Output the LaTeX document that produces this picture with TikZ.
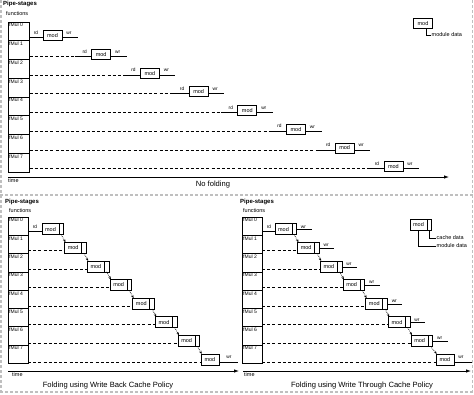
\documentclass[tikz,border=0pt]{standalone}
\usepackage{fontspec}
\setmainfont{Liberation Sans}
\usetikzlibrary{arrows.meta}
\begin{document}
\begin{tikzpicture}[x=1pt,y=-1pt,
  cell/.style={draw,line width=0.8pt,minimum width=21pt,minimum height=18.7pt,inner sep=0pt,outer sep=0pt},
  bcell/.style={draw,line width=0.8pt,minimum width=20pt,minimum height=18.3pt,inner sep=0pt,outer sep=0pt},
  cl/.style={font=\fontsize{5}{5.5}\selectfont,inner sep=1pt,anchor=north west},
  mbox/.style={draw,line width=0.8pt,minimum width=19pt,minimum height=10pt,inner sep=0pt,outer sep=0pt,font=\fontsize{5.5}{5.5}\selectfont},
  fbox/.style={draw,line width=0.8pt,minimum width=17pt,minimum height=11pt,inner sep=0pt,outer sep=0pt,font=\fontsize{5.5}{5.5}\selectfont},
  kbox/.style={draw,line width=0.8pt,minimum width=4.5pt,minimum height=11pt,inner sep=0pt,outer sep=0pt},
  lastbox/.style={draw,line width=0.8pt,minimum width=18pt,minimum height=11pt,inner sep=0pt,outer sep=0pt,font=\fontsize{5.5}{5.5}\selectfont},
  tl/.style={font=\fontsize{4.8}{4.8}\selectfont,inner sep=0.5pt,anchor=south},
  wire/.style={line width=0.8pt},
  dwire/.style={line width=0.8pt,dash pattern=on 3pt off 2.2pt},
  arr/.style={line width=0.7pt,densely dotted,-{Stealth[length=3pt,width=2.4pt]}},
  axis/.style={line width=0.8pt,-{Latex[length=5pt,width=3.5pt]}},
  ttl/.style={font=\bfseries\fontsize{6}{6}\selectfont,inner sep=0pt,anchor=north west},
  sub/.style={font=\fontsize{5.5}{6}\selectfont,inner sep=0pt,anchor=north west},
  captxt/.style={font=\fontsize{7.6}{7.6}\selectfont,inner sep=0pt},
  frame/.style={gray!50,line width=1.3pt,densely dashed}
]
\useasboundingbox (0,0) rectangle (474,394);
% frame
\draw[frame] (1,0) -- (1,393);
\draw[frame] (472.5,0) -- (472.5,393);
\draw[frame] (0,195) -- (474,195);
\draw[frame] (0,392) -- (474,392);

%================ TOP PANEL =================
\node[ttl] (tt) at (3,1) {Pipe-stages};
\node[sub] (ts) at (6,11) {functions};
\foreach \i in {0,...,7}{
  \pgfmathsetmacro\cy{31.4+18.75*\i}
  \node[cell] (c\i) at (18.5,\cy) {};
  \node[cl] (cn\i) at (c\i.north west) {fMul \i};
}
\foreach \i in {0,...,7}{
  \pgfmathsetmacro\yy{37.7+18.7*\i}
  \pgfmathsetmacro\bx{52.5+48.7*\i}
  \pgfmathsetmacro\sx{max(29.5,\bx-9.5-17)}
  \node[mbox] (t\i) at (\bx,\yy-2) {mod};
  \coordinate (tsa\i) at (29.5,\yy);
  \coordinate (tr\i) at (\sx,\yy);
  \coordinate (tw\i) at (\bx+9.5+16,\yy);
  \draw[dwire] (tsa\i) -- (tr\i);
  \draw[wire] (tr\i) -- (t\i.west |- tr\i);
  \draw[wire] (t\i.east |- tw\i) -- (tw\i);
  \node[tl] (trd\i) at (\bx-16.5,\yy-2.5) {rd};
  \node[tl] (twr\i) at (\bx+16.5,\yy-2.5) {wr};
}
\coordinate (ta) at (8,177);
\coordinate (tb) at (449,177);
\draw[axis] (ta) -- (tb);
\node[sub] (ttime) at (8,178.5) {time};
\node[captxt] (tcap) at (213,185) {No folding};
% legend
\node[mbox] (lg) at (423,23.5) {mod};
\node[font=\fontsize{5.5}{6}\selectfont,inner sep=0.5pt,anchor=west] (lgt) at (431,35) {module data};
\draw[wire] ([xshift=3pt]lg.south) |- (lgt.west);

%================ BOTTOM LEFT =================
\node[ttl] (bt) at (5,199) {Pipe-stages};
\node[sub] (bs) at (9,208.5) {functions};
\foreach \i in {0,...,7}{
  \pgfmathsetmacro\cy{226.15+18.3*\i}
  \node[bcell] (d\i) at (18,\cy) {};
  \node[cl] (dn\i) at (d\i.north west) {fMul \i};
}
\foreach \i in {0,...,7}{
  \pgfmathsetmacro\yy{231.7+18.6*\i}
  \pgfmathsetmacro\bx{42+22.7*\i}
  \coordinate (as\i) at (28,\yy);
  \ifnum\i<7
    \node[fbox] (a\i) at (\bx+8.5,\yy-2.5) {mod};
    \node[kbox,anchor=west] (ak\i) at (a\i.east) {};
  \else
    \node[lastbox] (a\i) at (\bx+9,\yy-2.5) {mod};
    \coordinate (aw\i) at (238,\yy);
    \draw[wire] (a\i.east |- aw\i) -- (aw\i);
    \node[tl] (awl\i) at (229,\yy-2.5) {wr};
  \fi
  \ifnum\i=0
    \draw[wire] (as\i) -- (a\i.west |- as\i);
    \node[tl] (ard\i) at (35,\yy-2.5) {rd};
  \else
    \draw[dwire] (as\i) -- (a\i.west |- as\i);
  \fi
}
\foreach \i [evaluate=\i as \j using int(\i+1)] in {0,...,6}{
  \draw[arr] (ak\i.south) -- ([xshift=0.8pt]a\j.north west);
}
\coordinate (ba) at (8,371);
\coordinate (bb) at (239,371);
\draw[axis] (ba) -- (bb);
\node[sub] (btime) at (12,372.5) {time};
\node[captxt] (bcap) at (108,386) {Folding using Write Back Cache Policy};

%================ BOTTOM RIGHT =================
\node[ttl] (rt) at (240,199) {Pipe-stages};
\node[sub] (rs) at (243,208.5) {functions};
\foreach \i in {0,...,7}{
  \pgfmathsetmacro\cy{226.15+18.3*\i}
  \node[bcell] (e\i) at (252,\cy) {};
  \node[cl] (en\i) at (e\i.north west) {fMul \i};
}
\foreach \i in {0,...,7}{
  \pgfmathsetmacro\yy{231.7+18.6*\i}
  \pgfmathsetmacro\bx{275+22.7*\i}
  \coordinate (bs\i) at (262,\yy);
  \ifnum\i<7
    \node[fbox] (b\i) at (\bx+8.5,\yy-2.5) {mod};
    \node[kbox,anchor=west] (bk\i) at (b\i.east) {};
    \coordinate (bw\i) at (\bx+21.5+15,\yy-2);
    \draw[wire] (bk\i.east |- bw\i) -- (bw\i);
    \node[tl] (bwl\i) at (\bx+21.5+7,\yy-3) {wr};
  \else
    \node[lastbox] (b\i) at (\bx+11,\yy-2.5) {mod};
    \coordinate (bw\i) at (472,\yy);
    \draw[wire] (b\i.east |- bw\i) -- (bw\i);
    \node[tl] (bwl\i) at (461,\yy-2.5) {wr};
  \fi
  \ifnum\i=0
    \draw[wire] (bs\i) -- (b\i.west |- bs\i);
    \node[tl] (brd\i) at (269,\yy-2.5) {rd};
  \else
    \draw[dwire] (bs\i) -- (b\i.west |- bs\i);
  \fi
}
\foreach \i [evaluate=\i as \j using int(\i+1)] in {0,...,6}{
  \draw[arr] (bk\i.south) -- ([xshift=0.8pt]b\j.north west);
}
\coordinate (ra) at (243,371);
\coordinate (rb) at (471,371);
\draw[axis] (ra) -- (rb);
\node[sub] (rtime) at (244,372.5) {time};
\node[captxt] (rcap) at (362,386) {Folding using Write Through Cache Policy};
% legend
\node[fbox] (lm) at (418.5,225) {mod};
\node[kbox,anchor=west] (lk) at (lm.east) {};
\node[font=\fontsize{5.5}{6}\selectfont,inner sep=0.5pt,anchor=west] (lct) at (436,238) {cache data};
\node[font=\fontsize{5.5}{6}\selectfont,inner sep=0.5pt,anchor=west] (lmt) at (436,246) {module data};
\draw[wire] (lk.south) |- (lct.west);
\draw[wire] ([xshift=-0.5pt]lm.south) |- (lmt.west);
\end{tikzpicture}
\end{document}
